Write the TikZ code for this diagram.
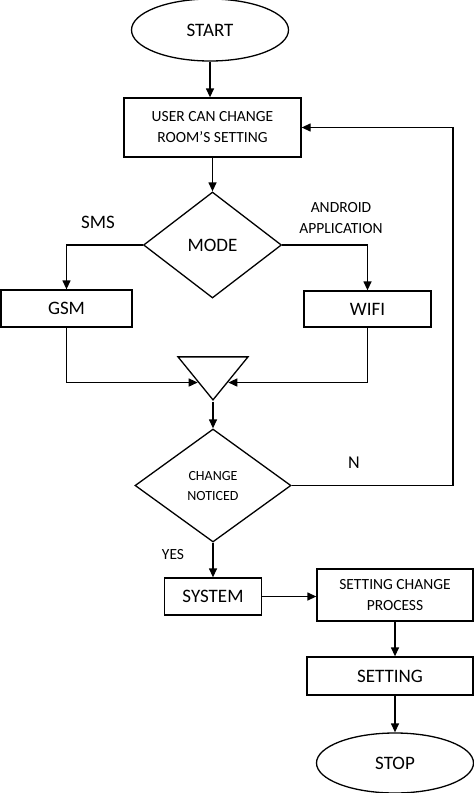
\documentclass[tikz,border=0pt]{standalone}
\usepackage{fontspec}
\setmainfont{Carlito}
\usetikzlibrary{shapes.geometric,arrows.meta,calc}

\begin{document}
\begin{tikzpicture}[x=1pt,y=-1pt,line width=1.3pt,
  big/.style={font=\fontsize{19}{22}\selectfont},
  two/.style={font=\fontsize{15.5}{21}\selectfont,align=center},
  procbox/.style={draw,rectangle,inner sep=0pt},
  termnode/.style={draw,ellipse,inner sep=0pt},
  decision/.style={draw,diamond,inner sep=0pt,align=center},
  flow/.style={-{Triangle[length=9pt,width=8pt]}}]
\useasboundingbox (0,0) rectangle (474,793);
% boxes, top to bottom:
\node[termnode,big,minimum width=157pt,minimum height=62pt] (start) at (210,30) {START};
\node[procbox,two,minimum width=177pt,minimum height=59pt] (user) at (212.5,127.5) {USER CAN CHANGE\\ROOM'S SETTING};
\node[decision,big,minimum width=138pt,minimum height=106pt] (mode) at (212.5,245) {MODE};
\node[procbox,big,minimum width=131pt,minimum height=37pt] (gsm) at (66.5,308.5) {GSM};
\node[procbox,big,minimum width=127pt,minimum height=36pt] (wifi) at (367.5,309) {WIFI};
\node[draw,isosceles triangle,isosceles triangle stretches,shape border rotate=270,
  inner sep=0pt,minimum width=70pt,minimum height=43pt] (tri) at (213,373.5) {};
\node[decision,font=\fontsize{14}{20}\selectfont,minimum width=156pt,minimum height=113pt] (chg) at (213,485.5) {CHANGE\\NOTICED};
\node[procbox,big,minimum width=97pt,minimum height=37pt] (system) at (213,596.5) {SYSTEM};
\node[procbox,two,minimum width=156pt,minimum height=52pt] (scp) at (395,595) {SETTING CHANGE\\PROCESS};
\node[procbox,big,minimum width=166pt,minimum height=38pt] (setting) at (390,676) {SETTING};
\node[termnode,big,minimum width=157pt,minimum height=60pt] (stop) at (395,763) {STOP};
% labels
\node[big] (sms) at (98,222) {SMS};
\node[two] (android) at (341,218) {ANDROID\\APPLICATION};
\node[font=\fontsize{18}{20}\selectfont] (n) at (354,463) {N};
\node[font=\fontsize{15.5}{18}\selectfont] (yes) at (173,555) {YES};
% connectors
\coordinate (inL) at ($(tri.right corner)!0.58!(tri.apex)$);
\coordinate (inR) at ($(tri.left corner)!0.58!(tri.apex)$);
\coordinate (loop) at (453,485.5);
\draw[flow] (start.south) -- (start.south |- user.north);
\draw[flow] (user.south) -- (mode.north);
\draw[flow] (mode.west) -| (gsm.north);
\draw[flow] (mode.east) -| (wifi.north);
\draw[flow] (gsm.south) |- (inL);
\draw[flow] (wifi.south) |- (inR);
\draw[flow] (tri.apex) -- (chg.north);
\draw[flow] (chg.east) -- (loop) |- (user.east);
\draw[flow] (chg.south) -- (system.north);
\draw[flow] (system.east) -- (system.east -| scp.west);
\draw[flow] (scp.south) -- (scp.south |- setting.north);
\draw[flow] (scp.south |- setting.south) -- (stop.north);
\end{tikzpicture}
\end{document}
